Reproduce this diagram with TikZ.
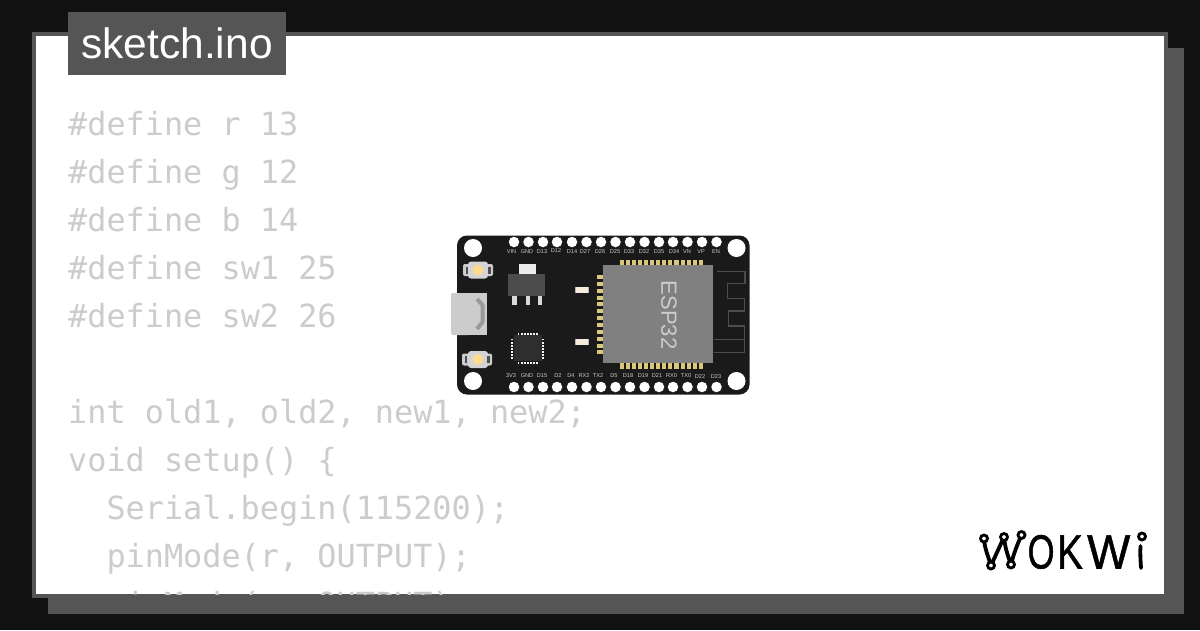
\documentclass[tikz,border=0pt]{standalone}
\usepackage{fontspec}
\setmainfont{Liberation Sans}
\setmonofont{DejaVu Sans Mono}
\newfontfamily\logofont[FakeBold=1.1]{Liberation Sans}
\usetikzlibrary{calc,shapes}
\definecolor{bgdark}{HTML}{111111}
\definecolor{framegray}{HTML}{555555}
\definecolor{codegray}{HTML}{CCCCCC}
\definecolor{boardblack}{HTML}{1A1A1A}
\definecolor{chipgray}{HTML}{808080}
\definecolor{padgold}{HTML}{D9C77C}
\definecolor{antgray}{HTML}{4F4D48}
\definecolor{ledyellow}{HTML}{FFDC8C}
\definecolor{smdcream}{HTML}{F7EBDD}
\tikzset{
  codeline/.style={anchor=base west, inner sep=0pt, text=codegray, font=\ttfamily\fontsize{31.85}{32}\selectfont},
  boardhole/.style={circle, fill=white, inner sep=0pt, minimum size=18pt},
  pinhole/.style={circle, fill=white, inner sep=0pt, minimum size=10.5pt},
  pinlab/.style={inner sep=0pt, text=codegray, font=\fontsize{5.6}{6}\selectfont},
  pad/.style={fill=padgold, draw=none},
  dot/.style={fill=gray!10, draw=none},
  logoline/.style={draw=black, line width=3.8pt, line cap=round, line join=round},
  logoring/.style={circle, draw=black, fill=white, line width=2.8pt, inner sep=0pt, minimum size=7pt},
  logoletter/.style={anchor=base west, inner sep=0pt, text=black, font=\logofont\fontsize{48}{48}\selectfont}
}
\begin{document}
\begin{tikzpicture}[x=1pt,y=-1pt]
  \useasboundingbox (0,0) rectangle (1200,630);
  \fill[bgdark] (0,0) rectangle (1200,630);
  \fill[framegray] (48,48) rectangle (1184,614);
  \fill[framegray] (32,32) rectangle (1168,598);
  \fill[white] (36,36) rectangle (1164,594);

  % code
  \begin{scope}
    \clip (36,36) rectangle (1164,594);
    \node[codeline] (line1) at (68,135) {\#define r 13};
    \node[codeline] (line2) at (68,183) {\#define g 12};
    \node[codeline] (line3) at (68,231) {\#define b 14};
    \node[codeline] (line4) at (68,279) {\#define sw1 25};
    \node[codeline] (line5) at (68,327) {\#define sw2 26};
    \node[codeline] (line6) at (68,423) {int old1, old2, new1, new2;};
    \node[codeline] (line7) at (68,471) {void setup() \{};
    \node[codeline] (line8) at (106.3,519) {Serial.begin(115200);};
    \node[codeline] (line9) at (106.3,567) {pinMode(r, OUTPUT);};
    \node[codeline] (line10) at (106.3,615) {pinMode(g, OUTPUT);};
  \end{scope}

  % title
  \fill[framegray] (68,12) rectangle (286,75);
  \node[anchor=base, inner sep=0pt, text=white, font=\fontsize{42.5}{42}\selectfont] (title) at (177,58) {sketch.ino};

  % board
  \fill[boardblack, rounded corners=10pt] (457,235.5) rectangle (749.5,394.5);

  % usb
  \fill[codegray, rounded corners=2pt] (451,293) rectangle (470,335);
  \fill[codegray] (465,293) rectangle (487,335);
  \draw[gray!80, line width=4pt, line join=round] (477,299) -- (482.5,305) -- (482.5,322) -- (477,329);
  \foreach \x/\y/\n in {473/248/a,736.5/248/b,473/381/c,736.5/381/d}
    \node[boardhole] (hole\n) at (\x,\y) {};

  % pins and their labels
  \foreach \x [count=\i] in {514,528.5,543,557,572,586.5,601,615.5,630,644.5,659,673,687.5,702,716.5} {
    \node[pinhole] (toppin\i) at (\x,242) {};
    \node[pinhole] (botpin\i) at (\x,387) {};
  }
  \foreach \x/\y/\t in {511.5/252/VIN,527/252/GND,542/252/D13,556/250.5/D12,572/252/D14,585/252/D27,600/252/D26,615/252/D25,629/252/D33,644/252/D32,659/252/D35,674/252/D34,687/252/VN,701/252/VP,716/252/EN}
    \node[pinlab] (top\t) at (\x,\y) {\t};
  \foreach \x/\y/\t in {511/376/3V3,527/376/GND,542/376/D15,558/376/D2,571/376/D4,584/376/RX2,598/376/TX2,614/376/D5,628/376/D18,643/376/D19,657/376/D21,671.5/376/RX0,686/376/TX0,700/377/D22,716/377/D23}
    \node[pinlab] (bot\t) at (\x,\y) {\t};

  % buttons
  \foreach \y/\n/\s in {270/a/0,359.5/b/-1} {
    \fill[codegray, rounded corners=2pt] (463+\s,\y-6) rectangle (493+\s,\y+6);
    \fill[codegray!85!white, rounded corners=3pt] (468,\y-8.5) rectangle (488,\y+8.5);
    \fill[boardblack!70!codegray] (465.5+\s,\y-3.5) rectangle (468+\s,\y+3.5);
    \fill[boardblack!70!codegray] (488+\s,\y-3.5) rectangle (490.5+\s,\y+3.5);
    \node[circle, fill=ledyellow, inner sep=0pt, minimum size=10.5pt] (led\n) at (478,\y) {};
  }

  % regulator
  \foreach \x in {512,525.5,537.5}
    \fill[gray!30] (\x,296) rectangle (\x+4.5,305);
  \fill[gray!15] (519,264) rectangle (536,274);
  \fill[black!70] (508,274) rectangle (545,296);

  % small parts
  \foreach \y in {287,339} {
    \fill[gray!60] (574.5,\y) rectangle (589,\y+6);
    \fill[smdcream] (576,\y) rectangle (587.5,\y+6);
  }

  % qfn
  \fill[black!82] (514,335) rectangle (541.5,361);
  \foreach \i in {0,...,6} {
    \fill[dot] (517.5+3.1*\i,332.8) rectangle +(1.9,1.9);
    \fill[dot] (517.5+3.1*\i,361.6) rectangle +(1.9,1.9);
    \fill[dot] (511.4,338.5+3.1*\i) rectangle +(1.9,1.9);
    \fill[dot] (542.4,338.5+3.1*\i) rectangle +(1.9,1.9);
  }

  % esp32 module
  \foreach \i in {0,...,13} {
    \fill[pad] (619.8+6.07*\i,260) rectangle +(4.1,5.5);
    \fill[pad] (619.8+6.07*\i,362.5) rectangle +(4.1,6);
  }
  \foreach \i in {0,...,11}
    \fill[pad] (597,275+6.85*\i) rectangle +(6.5,4);
  \fill[chipgray] (603,265) rectangle (713,362.5);
  \node[rotate=-90, inner sep=0pt, text=codegray, font=\fontsize{22}{22}\selectfont] (esp) at (669,315) {ESP32};

  % antenna
  \draw[antgray, line width=1.3pt] (717,271.5) -- (745,271.5) -- (745,283.5) -- (727.5,283.5) -- (727.5,298.5) -- (744.5,298.5) -- (744.5,311) -- (728.5,311) -- (728.5,326) -- (744.5,326) -- (744.5,352.5) -- (714,352.5);
  \draw[antgray, line width=1.3pt] (714,339.5) -- (744.5,339.5);

  % logo
  \draw[logoline] (984,538.5) .. controls (984.5,548) and (988,556) .. (991,565.5) -- (1004,537);
  \draw[logoline] (1004,537) .. controls (1005,548) and (1008,556) .. (1011,564.5) .. controls (1013,556) and (1017,545) .. (1021.5,535);
  \foreach \x/\y/\n in {984/538.5/a,1004/537/b,1021.5/535/c,991/565.5/d,1011/564.5/e,1142/536.5/f}
    \node[logoring] (ring\n) at (\x,\y) {};
  \node[logoletter, xscale=.72] (logoO) at (1027.5,568.5) {O};
  \node[logoletter, xscale=.8] (logoK) at (1057,568.5) {K};
  \node[logoletter, xscale=.95] (logoW) at (1087,568.5) {W};
  \draw[logoline] (1140.5,546) .. controls (1140,553) and (1140.5,560) .. (1141,568);
\end{tikzpicture}
\end{document}
